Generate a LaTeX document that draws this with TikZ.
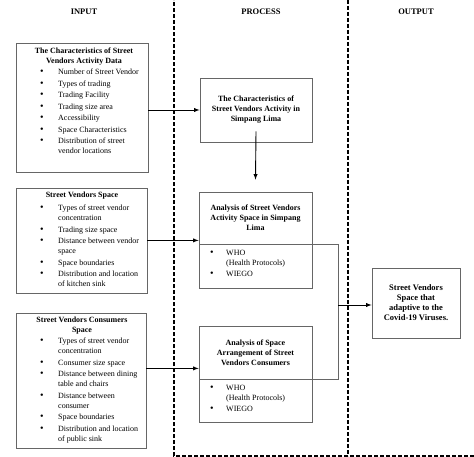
\documentclass[tikz,border=0pt]{standalone}
\usepackage{fontspec}
\setmainfont{Liberation Serif}

\newcommand{\bitem}{\makebox[18pt][l]{\fontsize{10}{10}\selectfont\textbullet}}
\newcommand{\bcont}{\hspace*{18pt}}
\newcommand{\pitem}{\makebox[16pt][l]{\fontsize{10}{10}\selectfont\textbullet}}

\begin{document}
\begin{tikzpicture}[x=1pt,y=-1pt,
  box/.style={draw=black!60, line width=0.8pt, inner sep=0pt},
  boxtitle/.style={font=\fontsize{8}{10}\selectfont\bfseries, align=center, inner sep=0pt},
  boxlist/.style={font=\fontsize{8}{10}\selectfont, align=left, inner sep=0pt, anchor=north west},
  heading/.style={font=\fontsize{8.5}{10}\selectfont\bfseries},
  arr/.style={-latex, line width=0.9pt, black},
  link/.style={draw=black!60, line width=0.8pt},
  sep/.style={dash pattern=on 4pt off 2pt, line width=1.1pt}]
\useasboundingbox (0,0) rectangle (474,457);
%\draw[help lines, step=10] (0,0) grid (474,457);

% column borders
\draw[sep] (474,456) -- (174,456) -- (174,0);
\draw[sep] (348,0) -- (348,456);

\node[heading] (h-input) at (84,12) {INPUT};
\node[heading] (h-process) at (261,12) {PROCESS};
\node[heading] (h-output) at (416,12) {OUTPUT};

% input
\node[box, minimum width=132pt, minimum height=129pt] (in1) at (82,107.5) {};
\node[boxtitle, anchor=north] (in1-title) at (84,48) {The Characteristics of Street\\Vendors Activity Data};
\node[boxlist] (in1-list) at (40,69) {\bitem Number of Street Vendor\\[1.5pt]
  \bitem Types of trading\\[1.5pt]
  \bitem Trading Facility\\[1.5pt]
  \bitem Trading size area\\[1.5pt]
  \bitem Accessibility\\[1.5pt]
  \bitem Space Characteristics\\[1.5pt]
  \bitem Distribution of street\\
  \bcont vendor locations};

\node[box, minimum width=131pt, minimum height=105pt] (in2) at (81.5,240.5) {};
\node[boxtitle, anchor=north] (in2-title) at (82,192) {Street Vendors Space};
\node[boxlist] (in2-list) at (40,205) {\bitem Types of street vendor\\
  \bcont concentration\\[1.5pt]
  \bitem Trading size space\\[1.5pt]
  \bitem Distance between vendor\\
  \bcont space\\[1.5pt]
  \bitem Space boundaries\\[1.5pt]
  \bitem Distribution and location\\
  \bcont of kitchen sink};

\node[box, minimum width=130pt, minimum height=135pt] (in3) at (81,380.5) {};
\node[boxtitle, anchor=north] (in3-title) at (82,317) {Street Vendors Consumers\\Space};
\node[boxlist] (in3-list) at (40,338) {\bitem Types of street vendor\\
  \bcont concentration\\[1.5pt]
  \bitem Consumer size space\\[1.5pt]
  \bitem Distance between dining\\
  \bcont table and chairs\\[1.5pt]
  \bitem Distance between\\
  \bcont consumer\\[1.5pt]
  \bitem Space boundaries\\[1.5pt]
  \bitem Distribution and location\\
  \bcont of public sink};

% process
\node[box, boxtitle, draw=black!60, minimum width=112pt, minimum height=64pt] (pr1) at (256,110) {The Characteristics of\\Street Vendors Activity in\\Simpang Lima};

\node[box, boxtitle, draw=black!60, minimum width=113pt, minimum height=52pt] (pr2a) at (255.5,218) {Analysis of Street Vendors\\Activity Space in Simpang\\Lima};
\node[box, minimum width=113pt, minimum height=44pt, anchor=north] (pr2b) at (pr2a.south) {};
\node[boxlist] (pr2-list) at (210,250) {\pitem WHO\\
  \hspace*{16pt}(Health Protocols)\\[1.5pt]
  \pitem WIEGO};

\node[box, boxtitle, draw=black!60, minimum width=113pt, minimum height=53pt] (pr3a) at (255.5,352.5) {Analysis of Space\\Arrangement of Street\\Vendors Consumers};
\node[box, minimum width=113pt, minimum height=43pt, anchor=north] (pr3b) at (pr3a.south) {};
\node[boxlist] (pr3-list) at (210,385) {\pitem WHO\\
  \hspace*{16pt}(Health Protocols)\\[1.5pt]
  \pitem WIEGO};

% output
\node[box, boxtitle, draw=black!60, font=\fontsize{8.5}{10}\selectfont\bfseries, minimum width=88pt, minimum height=70pt] (out) at (416,303) {Street Vendors\\Space that\\adaptive to the\\Covid-19 Viruses.};

% connectors
\coordinate (e2) at ([yshift=4pt]pr2a.south west);
\coordinate (e3) at ([yshift=11pt]pr3a.south west);
\coordinate (join) at (338,305);

\draw[arr] (in1.east |- pr1.west) -- (pr1.west);
\draw[arr] ([yshift=11pt]pr1.south) -- ([yshift=12pt]pr2a.north);
\draw[arr] (in2.east |- e2) -- (e2);
\draw[arr] (in3.east |- e3) -- (e3);
\draw[link] (pr2a.south east) -- (join |- pr2a.south east) |- (pr3a.south east);
\draw[arr] (join) -- (out.west |- join);
\end{tikzpicture}
\end{document}
